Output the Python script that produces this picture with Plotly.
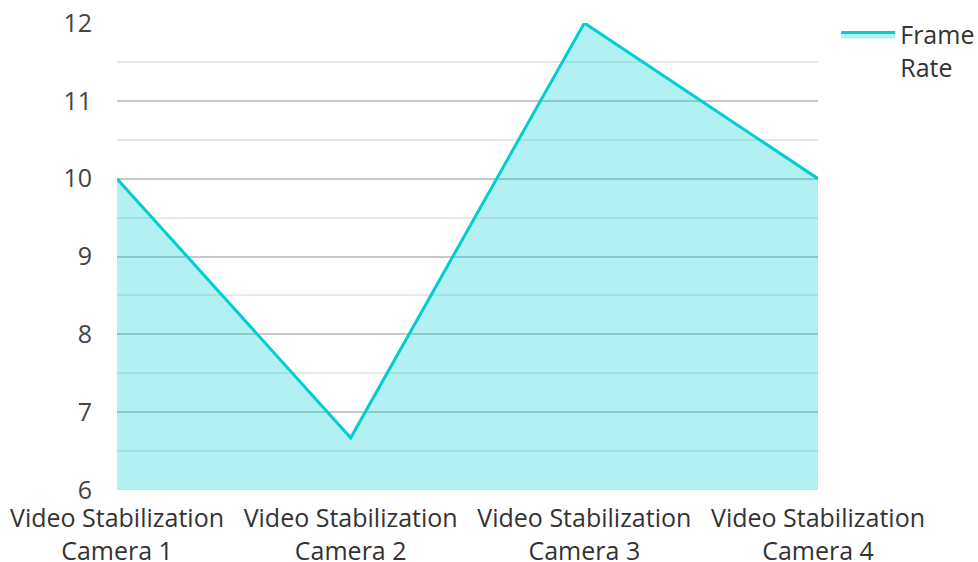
import plotly.graph_objects as go

categories = ["Video Stabilization<br>Camera 1", "Video Stabilization<br>Camera 2",
              "Video Stabilization<br>Camera 3", "Video Stabilization<br>Camera 4"]
frame_rate = [10, 6.67, 12, 10]
series_name = "Frame<br>Rate"

fig = go.Figure()
fig.add_trace(go.Scatter(
    x=categories, y=frame_rate, name=series_name, mode="lines",
    line=dict(color="#00CED1", width=3), fill="tozeroy",
    fillcolor="rgba(0,206,209,0.3)", showlegend=True,
))

fig.update_layout(
    width=978, height=562,
    margin=dict(l=117, r=160, t=23, b=72, autoexpand=False),
    paper_bgcolor="white", plot_bgcolor="white",
    font=dict(family="Open Sans", size=25, color="#444444"),
    xaxis=dict(range=[0, 3], showgrid=False, zeroline=False, showline=False, automargin=False,
               ticks="", ticklabelstandoff=11, tickfont=dict(size=25, color="#333333")),
    yaxis=dict(range=[6, 12], dtick=1, showgrid=True, gridcolor="#c8c8c8", gridwidth=1.5,
               zeroline=False, showline=False, ticks="", ticklabelstandoff=24, automargin=False,
               tickfont=dict(size=25, color="#444444"),
               minor=dict(dtick=0.5, showgrid=True, gridcolor="#e8e8e8", gridwidth=1.5)),
    legend=dict(x=1.026, xanchor="left", y=1.024, yanchor="top", valign="top",
                font=dict(size=25, color="#333333"), itemwidth=54),
)

fig.write_html("out.html")
